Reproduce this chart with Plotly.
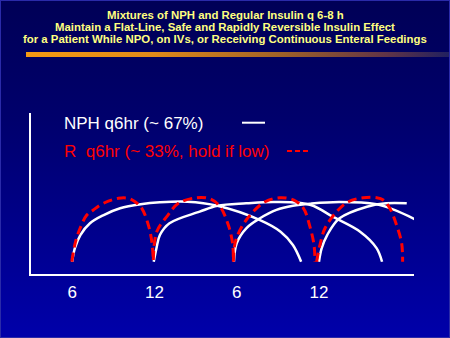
import base64
import plotly.graph_objects as go

# ---- data (hours after the first 6 o'clock dose, relative insulin effect) ----
tick_hours = [6, 12, 18, 24]
tick_labels = ["6", "12", "6", "12"]

nph1_h = [6.0, 6.2, 6.6, 7.3, 8.3, 9.5, 11.0, 12.4, 14.4, 16.6, 19.7, 21.2, 22.1, 22.7]
nph1_v = [7.6, 16.0, 24.2, 31.5, 36.6, 40.8, 43.3, 44.5, 44.9, 42.4, 33.5, 26.3, 18.0, 7.6]
nph2_h = [11.95, 12.15, 12.4, 13.1, 15.3, 16.6, 18.7, 20.8, 23.4, 25.0, 27.0, 28.2, 28.6]
nph2_v = [7.6, 16.0, 24.2, 31.5, 38.7, 42.4, 43.9, 44.7, 42.9, 35.6, 26.3, 16.1, 7.6]
nph3_h = [17.8, 18.0, 18.7, 19.7, 20.9, 22.1, 23.4, 25.5, 28.2, 29.5, 31.0]
nph3_v = [7.6, 19.1, 28.4, 34.6, 39.8, 42.4, 43.7, 44.7, 43.3, 39.8, 34.0]
nph4_h = [24.0, 24.2, 24.6, 25.5, 27.5, 28.9, 30.4]
nph4_v = [7.6, 16.0, 24.2, 34.6, 41.8, 43.9, 43.9]

reg1_h = [5.98, 6.22, 6.58, 7.07, 7.55, 8.28, 9.37, 10.10, 10.59, 11.08, 11.56, 11.81, 11.92]
reg1_v = [7.6, 19.1, 28.4, 36.6, 39.8, 43.9, 47.0, 47.0, 44.9, 40.8, 30.4, 20.1, 8.7]
reg2_h = [11.92, 12.17, 12.90, 13.75, 15.09, 16.06, 16.79, 17.39, 17.70, 17.76]
reg2_v = [8.7, 26.3, 35.6, 43.9, 47.4, 46.6, 41.8, 30.4, 19.1, 7.6]
reg3_h = [17.76, 17.88, 18.37, 19.10, 20.07, 21.16, 22.13, 22.87, 23.34, 23.64, 23.71]
reg3_v = [7.6, 19.1, 29.4, 37.7, 44.9, 47.4, 46.0, 40.8, 29.4, 18.0, 7.6]
reg4_h = [23.83, 24.07, 24.44, 25.29, 26.14, 27.23, 28.21, 28.69, 29.17, 29.66, 30.03, 30.10]
reg4_v = [7.6, 18.0, 28.4, 38.7, 44.9, 47.4, 47.4, 46.0, 40.8, 30.4, 19.1, 7.6]

title_lines = [
    "Mixtures of NPH and Regular Insulin q 6-8 h",
    "Maintain a Flat-Line, Safe and Rapidly Reversible Insulin Effect",
    "for a Patient While NPO, on IVs, or Receiving Continuous Enteral Feedings",
]
nph_label = "NPH q6hr (~ 67%)"
reg_label = "R  q6hr (~ 33%, hold if low)"

# ---- layout geometry ----
W, H = 450, 338
ML, MR, MT, MB = 31, 36, 113, 64
PW, PH = W - ML - MR, H - MT - MB
FONT = "Liberation Sans, Arial, sans-serif"

svg = f"""<svg xmlns="http://www.w3.org/2000/svg" width="{W}" height="{H}" viewBox="0 0 {W} {H}" preserveAspectRatio="none">
<defs>
<linearGradient id="bg" x1="0" y1="0" x2="0" y2="1">
<stop offset="0" stop-color="#000056"/><stop offset="0.35" stop-color="#00006c"/><stop offset="1" stop-color="#0000aa"/>
</linearGradient>
<linearGradient id="bar" x1="0" y1="0" x2="1" y2="0">
<stop offset="0" stop-color="#f59a12"/><stop offset="0.3" stop-color="#e08a1a"/>
<stop offset="0.6" stop-color="#a06228"/><stop offset="0.85" stop-color="#603448"/><stop offset="1" stop-color="#202060"/>
</linearGradient>
</defs>
<rect width="{W}" height="{H}" fill="url(#bg)"/>
<rect x="26" y="52" width="{W-26}" height="5" fill="url(#bar)"/>
<rect x="0.5" y="0.5" width="{W-1}" height="{H-1}" fill="none" stroke="#2a2aa8" stroke-width="1"/>
</svg>"""
bg_uri = "data:image/svg+xml;base64," + base64.b64encode(svg.encode()).decode()

fig = go.Figure()

for hx, vy in [(nph1_h, nph1_v), (nph2_h, nph2_v), (nph3_h, nph3_v), (nph4_h, nph4_v)]:
    fig.add_trace(go.Scatter(x=hx, y=vy, mode="lines",
                             line=dict(color="white", width=2.5, shape="spline", smoothing=1.0),
                             hoverinfo="skip", showlegend=False))
for hx, vy in [(reg1_h, reg1_v), (reg2_h, reg2_v), (reg3_h, reg3_v), (reg4_h, reg4_v)]:
    fig.add_trace(go.Scatter(x=hx, y=vy, mode="lines",
                             line=dict(color="#ff0000", width=3, dash="9px,5px", shape="spline", smoothing=1.0),
                             hoverinfo="skip", showlegend=False))

def px_x(p):
    return (p - ML) / PW

def px_y(p):
    return 1 - (p - MT) / PH

annotations = []
for i, line in enumerate(title_lines):
    annotations.append(dict(text=f"<b>{line}</b>", x=px_x(0.5 * W), y=px_y(15 + i * 12.1),
                            xref="paper", yref="paper", xanchor="center", yanchor="middle",
                            showarrow=False, font=dict(family=FONT, size=11.4, color="#ffff80")))

annotations.append(dict(text=nph_label, x=px_x(62), y=px_y(123.5), xref="paper", yref="paper",
                        xanchor="left", yanchor="middle", showarrow=False,
                        font=dict(family=FONT, size=17, color="white")))
annotations.append(dict(text=reg_label, x=px_x(62), y=px_y(151), xref="paper", yref="paper",
                        xanchor="left", yanchor="middle", showarrow=False,
                        font=dict(family=FONT, size=17, color="#ff0000")))

shapes = [
    dict(type="line", xref="paper", yref="paper", x0=px_x(242), x1=px_x(265), y0=px_y(122.7), y1=px_y(122.7),
         line=dict(color="white", width=2)),
    dict(type="line", xref="paper", yref="paper", x0=px_x(287), x1=px_x(310), y0=px_y(151), y1=px_y(151),
         line=dict(color="#ff0000", width=2, dash="5px,3px")),
]

fig.update_layout(
    width=W, height=H,
    margin=dict(l=ML, r=MR, t=MT, b=MB, pad=0),
    paper_bgcolor="#00006c",
    plot_bgcolor="rgba(0,0,0,0)",
    images=[dict(source=bg_uri, xref="paper", yref="paper", x=-ML / PW, y=1 + MT / PH,
                 sizex=W / PW, sizey=H / PH, xanchor="left", yanchor="top",
                 sizing="stretch", layer="below")],
    annotations=annotations,
    shapes=shapes,
    xaxis=dict(range=[3.0, 30.93], showgrid=False, zeroline=False, showline=True,
               linecolor="white", linewidth=2, tickvals=tick_hours, ticktext=tick_labels,
               ticks="outside", ticklen=2, tickcolor="rgba(0,0,0,0)",
               tickfont=dict(family=FONT, size=17, color="white"), fixedrange=True),
    yaxis=dict(range=[0, 100], showgrid=False, zeroline=False, showline=True,
               linecolor="white", linewidth=2, showticklabels=False, ticks="", fixedrange=True),
    showlegend=False,
)

fig.write_html("out.html")
